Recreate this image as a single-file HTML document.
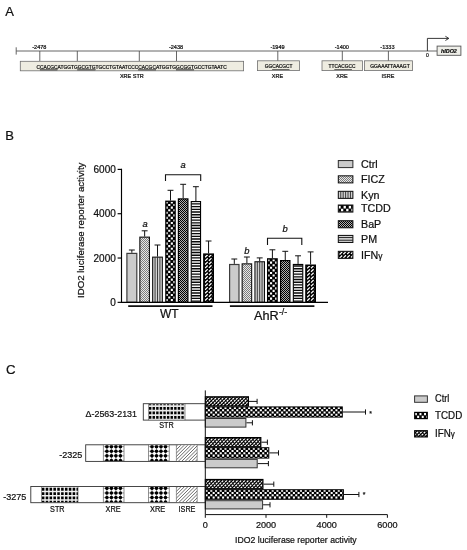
<!DOCTYPE html>
<html><head><meta charset="utf-8"><title>IDO2 figure</title>
<style>html,body{margin:0;padding:0;background:#fff;}svg{display:block;}text{font-family:"Liberation Sans", sans-serif;fill:#111;stroke:#111;stroke-width:0.22px;}</style>
</head><body>
<svg width="467" height="550" viewBox="0 0 467 550">
<defs>
<pattern id="pFICZ" width="2" height="2" patternUnits="userSpaceOnUse"><rect width="2" height="2" fill="#e8e8e8"/><rect width="1" height="1" fill="#7c7c7c"/><rect x="1" y="1" width="1" height="1" fill="#7c7c7c"/></pattern>
<pattern id="pBaP" width="2" height="2" patternUnits="userSpaceOnUse"><rect width="2" height="2" fill="#b0b0b0"/><rect width="1" height="1" fill="#000"/><rect x="1" y="1" width="1" height="1" fill="#000"/></pattern>
</defs>
<text x="5.2" y="16.3" font-size="13">A</text>
<g stroke="#555" stroke-width="0.9" fill="none">
<path d="M16.2,51 H437"/>
<path d="M16.2,47.3 V54.6"/>
<path d="M39.8,51 V61"/>
<path d="M77.3,51 V61"/>
<path d="M139.3,51 V61"/>
<path d="M176.5,51 V61"/>
<path d="M277.8,51 V61"/>
<path d="M342.3,51 V61"/>
<path d="M388.4,51 V61"/>
</g>
<path d="M427.4,51 V38.4 H448.6 M445.4,36.3 L448.8,38.4 L445.4,40.5" stroke="#222" stroke-width="0.9" fill="none"/>
<rect x="20.3" y="61.3" width="223.3" height="9.5" fill="#eeece1" stroke="#6f6f6f" stroke-width="0.8"/>
<rect x="257.5" y="60.8" width="41.9" height="9.8" fill="#eeece1" stroke="#6f6f6f" stroke-width="0.8"/>
<rect x="322" y="60.8" width="40.4" height="9.8" fill="#eeece1" stroke="#6f6f6f" stroke-width="0.8"/>
<rect x="364.5" y="60.8" width="48.0" height="9.8" fill="#eeece1" stroke="#6f6f6f" stroke-width="0.8"/>
<rect x="437.1" y="46.1" width="23.8" height="9.2" fill="#efefe9" stroke="#555" stroke-width="0.9"/>
<text x="36.5" y="68.6" font-size="4.9" textLength="190.2" lengthAdjust="spacingAndGlyphs" fill="#3a3a3a" stroke="none">C<tspan style="text-decoration:underline;text-underline-offset:0.2px;text-decoration-thickness:0.45px">CACGC</tspan>ATGGTG<tspan style="text-decoration:underline;text-underline-offset:0.2px;text-decoration-thickness:0.45px">GCGTG</tspan>TGCCTGTAATCCC<tspan style="text-decoration:underline;text-underline-offset:0.2px;text-decoration-thickness:0.45px">CACGC</tspan>ATGGTG<tspan style="text-decoration:underline;text-underline-offset:0.2px;text-decoration-thickness:0.45px">GCGGT</tspan>GCCTGTAATC</text>
<text x="264.7" y="68.2" font-size="4.9" textLength="27.8" lengthAdjust="spacingAndGlyphs" fill="#3a3a3a" stroke="none">GG<tspan style="text-decoration:underline;text-underline-offset:0.2px;text-decoration-thickness:0.45px">CACGC</tspan>T</text>
<text x="328.6" y="68.2" font-size="4.9" textLength="26.8" lengthAdjust="spacingAndGlyphs" fill="#3a3a3a" stroke="none">TT<tspan style="text-decoration:underline;text-underline-offset:0.2px;text-decoration-thickness:0.45px">CACGC</tspan>C</text>
<text x="370.2" y="68.2" font-size="4.9" textLength="39.5" lengthAdjust="spacingAndGlyphs" fill="#3a3a3a" stroke="none">GGAAATTAAAGT</text>
<text x="39.3" y="48.8" font-size="5.55" text-anchor="middle" stroke-width="0.1" >-2478</text>
<text x="176" y="48.8" font-size="5.55" text-anchor="middle" stroke-width="0.1" >-2438</text>
<text x="277.5" y="48.8" font-size="5.55" text-anchor="middle" stroke-width="0.1" >-1949</text>
<text x="341.8" y="48.8" font-size="5.55" text-anchor="middle" stroke-width="0.1" >-1400</text>
<text x="387.4" y="48.8" font-size="5.55" text-anchor="middle" stroke-width="0.1" >-1333</text>
<text x="427.4" y="56.8" font-size="5.0" text-anchor="middle" stroke-width="0.1" >0</text>
<text x="448.9" y="52.8" font-size="5.4" text-anchor="middle" stroke-width="0.1" font-style="italic" font-weight="bold" fill="#333">hIDO2</text>
<text x="131.8" y="77.8" font-size="5.5" text-anchor="middle" stroke-width="0.1" >XRE STR</text>
<text x="277.5" y="77.8" font-size="5.5" text-anchor="middle" stroke-width="0.1" >XRE</text>
<text x="342" y="77.8" font-size="5.5" text-anchor="middle" stroke-width="0.1" >XRE</text>
<text x="388" y="77.8" font-size="5.5" text-anchor="middle" stroke-width="0.1" >ISRE</text>
<text x="5.2" y="140.1" font-size="13">B</text>
<text x="115.8" y="305.85" font-size="10.0" text-anchor="end" stroke-width="0.3">0</text>
<text x="115.8" y="261.53" font-size="10.0" text-anchor="end" stroke-width="0.3">2000</text>
<text x="115.8" y="217.22" font-size="10.0" text-anchor="end" stroke-width="0.3">4000</text>
<text x="115.8" y="172.90" font-size="10.0" text-anchor="end" stroke-width="0.3">6000</text>
<text transform="translate(84.4,230.3) rotate(-90)" font-size="9.6" text-anchor="middle" textLength="135.5" lengthAdjust="spacingAndGlyphs">IDO2 luciferase reporter activity</text>
<path d="M131.85,252.80 V250.00 M128.90,250.00 H134.80" stroke="#111" stroke-width="1" fill="none"/>
<rect x="126.9" y="253.4" width="9.9" height="48.85" fill="#cbcbcb"/>
<rect x="126.9" y="253.4" width="9.9" height="48.85" fill="none" stroke="#3c3c3c" stroke-width="1.2"/>
<path d="M144.65,236.60 V230.80 M141.70,230.80 H147.60" stroke="#111" stroke-width="1" fill="none"/>
<rect x="139.85" y="237.15" width="9.6" height="65.15" fill="url(#pFICZ)"/>
<rect x="139.85" y="237.15" width="9.6" height="65.15" fill="none" stroke="#111" stroke-width="1.1"/>
<path d="M157.50,256.60 V245.00 M154.55,245.00 H160.45" stroke="#111" stroke-width="1" fill="none"/>
<clipPath id="k1"><rect x="152.65" y="257.15" width="9.7" height="45.15"/></clipPath>
<g clip-path="url(#k1)">
<rect x="152.65" y="257.15" width="9.7" height="45.15" fill="#d2d2d2"/>
<path d="M155.07,257.15V302.3M157.5,257.15V302.3M159.93,257.15V302.3" stroke="#2a2a2a" stroke-width="0.9" fill="none"/>
</g>
<rect x="152.65" y="257.15" width="9.7" height="45.15" fill="none" stroke="#111" stroke-width="1.1"/>
<path d="M170.50,200.60 V190.30 M167.55,190.30 H173.45" stroke="#111" stroke-width="1" fill="none"/>
<clipPath id="k2"><rect x="165.85" y="201.25" width="9.3" height="100.95"/></clipPath>
<g clip-path="url(#k2)">
<rect x="165.85" y="201.25" width="9.3" height="100.95" fill="#000"/>
<path d="M165.64,201.44h2.1v2.1h-2.1zM170.78,201.44h2.1v2.1h-2.1zM168.21,204h2.1v2.1h-2.1zM173.34,204h2.1v2.1h-2.1zM165.64,206.57h2.1v2.1h-2.1zM170.78,206.57h2.1v2.1h-2.1zM168.21,209.14h2.1v2.1h-2.1zM173.34,209.14h2.1v2.1h-2.1zM165.64,211.71h2.1v2.1h-2.1zM170.78,211.71h2.1v2.1h-2.1zM168.21,214.28h2.1v2.1h-2.1zM173.34,214.28h2.1v2.1h-2.1zM165.64,216.85h2.1v2.1h-2.1zM170.78,216.85h2.1v2.1h-2.1zM168.21,219.42h2.1v2.1h-2.1zM173.34,219.42h2.1v2.1h-2.1zM165.64,221.99h2.1v2.1h-2.1zM170.78,221.99h2.1v2.1h-2.1zM168.21,224.56h2.1v2.1h-2.1zM173.34,224.56h2.1v2.1h-2.1zM165.64,227.13h2.1v2.1h-2.1zM170.78,227.13h2.1v2.1h-2.1zM168.21,229.7h2.1v2.1h-2.1zM173.34,229.7h2.1v2.1h-2.1zM165.64,232.27h2.1v2.1h-2.1zM170.78,232.27h2.1v2.1h-2.1zM168.21,234.84h2.1v2.1h-2.1zM173.34,234.84h2.1v2.1h-2.1zM165.64,237.41h2.1v2.1h-2.1zM170.78,237.41h2.1v2.1h-2.1zM168.21,239.98h2.1v2.1h-2.1zM173.34,239.98h2.1v2.1h-2.1zM165.64,242.55h2.1v2.1h-2.1zM170.78,242.55h2.1v2.1h-2.1zM168.21,245.12h2.1v2.1h-2.1zM173.34,245.12h2.1v2.1h-2.1zM165.64,247.69h2.1v2.1h-2.1zM170.78,247.69h2.1v2.1h-2.1zM168.21,250.26h2.1v2.1h-2.1zM173.34,250.26h2.1v2.1h-2.1zM165.64,252.83h2.1v2.1h-2.1zM170.78,252.83h2.1v2.1h-2.1zM168.21,255.4h2.1v2.1h-2.1zM173.34,255.4h2.1v2.1h-2.1zM165.64,257.97h2.1v2.1h-2.1zM170.78,257.97h2.1v2.1h-2.1zM168.21,260.54h2.1v2.1h-2.1zM173.34,260.54h2.1v2.1h-2.1zM165.64,263.11h2.1v2.1h-2.1zM170.78,263.11h2.1v2.1h-2.1zM168.21,265.68h2.1v2.1h-2.1zM173.34,265.68h2.1v2.1h-2.1zM165.64,268.25h2.1v2.1h-2.1zM170.78,268.25h2.1v2.1h-2.1zM168.21,270.82h2.1v2.1h-2.1zM173.34,270.82h2.1v2.1h-2.1zM165.64,273.39h2.1v2.1h-2.1zM170.78,273.39h2.1v2.1h-2.1zM168.21,275.96h2.1v2.1h-2.1zM173.34,275.96h2.1v2.1h-2.1zM165.64,278.53h2.1v2.1h-2.1zM170.78,278.53h2.1v2.1h-2.1zM168.21,281.1h2.1v2.1h-2.1zM173.34,281.1h2.1v2.1h-2.1zM165.64,283.67h2.1v2.1h-2.1zM170.78,283.67h2.1v2.1h-2.1zM168.21,286.24h2.1v2.1h-2.1zM173.34,286.24h2.1v2.1h-2.1zM165.64,288.81h2.1v2.1h-2.1zM170.78,288.81h2.1v2.1h-2.1zM168.21,291.38h2.1v2.1h-2.1zM173.34,291.38h2.1v2.1h-2.1zM165.64,293.95h2.1v2.1h-2.1zM170.78,293.95h2.1v2.1h-2.1zM168.21,296.52h2.1v2.1h-2.1zM173.34,296.52h2.1v2.1h-2.1zM165.64,299.09h2.1v2.1h-2.1zM170.78,299.09h2.1v2.1h-2.1zM168.21,301.66h2.1v2.1h-2.1zM173.34,301.66h2.1v2.1h-2.1z" fill="#fff"/>
</g>
<rect x="165.85" y="201.25" width="9.3" height="100.95" fill="none" stroke="#000" stroke-width="1.3"/>
<path d="M183.15,198.30 V184.30 M180.20,184.30 H186.10" stroke="#111" stroke-width="1" fill="none"/>
<rect x="178.4" y="198.9" width="9.5" height="103.35" fill="url(#pBaP)"/>
<rect x="178.4" y="198.9" width="9.5" height="103.35" fill="none" stroke="#000" stroke-width="1.2"/>
<path d="M195.90,201.00 V186.70 M192.95,186.70 H198.85" stroke="#111" stroke-width="1" fill="none"/>
<clipPath id="k3"><rect x="191.25" y="201.55" width="9.3" height="100.75"/></clipPath>
<g clip-path="url(#k3)">
<rect x="191.25" y="201.55" width="9.3" height="100.75" fill="#f6f6f6"/>
<path d="M191.25,301.1H200.55M191.25,298.4H200.55M191.25,295.7H200.55M191.25,293H200.55M191.25,290.3H200.55M191.25,287.6H200.55M191.25,284.9H200.55M191.25,282.2H200.55M191.25,279.5H200.55M191.25,276.8H200.55M191.25,274.1H200.55M191.25,271.4H200.55M191.25,268.7H200.55M191.25,266H200.55M191.25,263.3H200.55M191.25,260.6H200.55M191.25,257.9H200.55M191.25,255.2H200.55M191.25,252.5H200.55M191.25,249.8H200.55M191.25,247.1H200.55M191.25,244.4H200.55M191.25,241.7H200.55M191.25,239H200.55M191.25,236.3H200.55M191.25,233.6H200.55M191.25,230.9H200.55M191.25,228.2H200.55M191.25,225.5H200.55M191.25,222.8H200.55M191.25,220.1H200.55M191.25,217.4H200.55M191.25,214.7H200.55M191.25,212H200.55M191.25,209.3H200.55M191.25,206.6H200.55M191.25,203.9H200.55M191.25,201.2H200.55" stroke="#0a0a0a" stroke-width="1.35" fill="none"/>
</g>
<rect x="191.25" y="201.55" width="9.3" height="100.75" fill="none" stroke="#000" stroke-width="1.1"/>
<path d="M208.55,253.40 V241.00 M205.60,241.00 H211.50" stroke="#111" stroke-width="1" fill="none"/>
<clipPath id="k4"><rect x="203.85" y="254.15" width="9.4" height="47.95"/></clipPath>
<g clip-path="url(#k4)">
<rect x="203.85" y="254.15" width="9.4" height="47.95" fill="#000"/>
<path d="M201.3,253.9L214.25,240.95M201.3,257.5L214.25,244.55M201.3,261.1L214.25,248.15M201.3,264.7L214.25,251.75M201.3,268.3L214.25,255.35M201.3,271.9L214.25,258.95M201.3,275.5L214.25,262.55M201.3,279.1L214.25,266.15M201.3,282.7L214.25,269.75M201.3,286.3L214.25,273.35M201.3,289.9L214.25,276.95M201.3,293.5L214.25,280.55M201.3,297.1L214.25,284.15M201.3,300.7L214.25,287.75M201.3,304.3L214.25,291.35M201.3,307.9L214.25,294.95M201.3,311.5L214.25,298.55M201.3,315.1L214.25,302.15" stroke="#fff" stroke-width="1.25" stroke-dasharray="3.7 1.67" fill="none"/>
</g>
<rect x="203.85" y="254.15" width="9.4" height="47.95" fill="none" stroke="#000" stroke-width="1.5"/>
<path d="M234.30,263.90 V259.00 M231.35,259.00 H237.25" stroke="#111" stroke-width="1" fill="none"/>
<rect x="229.6" y="264.5" width="9.4" height="37.75" fill="#cbcbcb"/>
<rect x="229.6" y="264.5" width="9.4" height="37.75" fill="none" stroke="#3c3c3c" stroke-width="1.2"/>
<path d="M246.90,263.30 V257.00 M243.95,257.00 H249.85" stroke="#111" stroke-width="1" fill="none"/>
<rect x="242.15" y="263.85" width="9.5" height="38.45" fill="url(#pFICZ)"/>
<rect x="242.15" y="263.85" width="9.5" height="38.45" fill="none" stroke="#111" stroke-width="1.1"/>
<path d="M259.70,261.20 V257.90 M256.75,257.90 H262.65" stroke="#111" stroke-width="1" fill="none"/>
<clipPath id="k5"><rect x="254.95" y="261.75" width="9.5" height="40.55"/></clipPath>
<g clip-path="url(#k5)">
<rect x="254.95" y="261.75" width="9.5" height="40.55" fill="#d2d2d2"/>
<path d="M257.32,261.75V302.3M259.7,261.75V302.3M262.07,261.75V302.3" stroke="#2a2a2a" stroke-width="0.9" fill="none"/>
</g>
<rect x="254.95" y="261.75" width="9.5" height="40.55" fill="none" stroke="#111" stroke-width="1.1"/>
<path d="M272.40,258.20 V249.80 M269.45,249.80 H275.35" stroke="#111" stroke-width="1" fill="none"/>
<clipPath id="k6"><rect x="267.65" y="258.85" width="9.5" height="43.35"/></clipPath>
<g clip-path="url(#k6)">
<rect x="267.65" y="258.85" width="9.5" height="43.35" fill="#000"/>
<path d="M267.44,259.03h2.1v2.1h-2.1zM272.57,259.03h2.1v2.1h-2.1zM270,261.6h2.1v2.1h-2.1zM275.14,261.6h2.1v2.1h-2.1zM267.44,264.17h2.1v2.1h-2.1zM272.57,264.17h2.1v2.1h-2.1zM270,266.74h2.1v2.1h-2.1zM275.14,266.74h2.1v2.1h-2.1zM267.44,269.31h2.1v2.1h-2.1zM272.57,269.31h2.1v2.1h-2.1zM270,271.88h2.1v2.1h-2.1zM275.14,271.88h2.1v2.1h-2.1zM267.44,274.45h2.1v2.1h-2.1zM272.57,274.45h2.1v2.1h-2.1zM270,277.02h2.1v2.1h-2.1zM275.14,277.02h2.1v2.1h-2.1zM267.44,279.59h2.1v2.1h-2.1zM272.57,279.59h2.1v2.1h-2.1zM270,282.16h2.1v2.1h-2.1zM275.14,282.16h2.1v2.1h-2.1zM267.44,284.73h2.1v2.1h-2.1zM272.57,284.73h2.1v2.1h-2.1zM270,287.3h2.1v2.1h-2.1zM275.14,287.3h2.1v2.1h-2.1zM267.44,289.87h2.1v2.1h-2.1zM272.57,289.87h2.1v2.1h-2.1zM270,292.44h2.1v2.1h-2.1zM275.14,292.44h2.1v2.1h-2.1zM267.44,295.01h2.1v2.1h-2.1zM272.57,295.01h2.1v2.1h-2.1zM270,297.58h2.1v2.1h-2.1zM275.14,297.58h2.1v2.1h-2.1zM267.44,300.15h2.1v2.1h-2.1zM272.57,300.15h2.1v2.1h-2.1z" fill="#fff"/>
</g>
<rect x="267.65" y="258.85" width="9.5" height="43.35" fill="none" stroke="#000" stroke-width="1.3"/>
<path d="M285.25,260.00 V251.30 M282.30,251.30 H288.20" stroke="#111" stroke-width="1" fill="none"/>
<rect x="280.6" y="260.6" width="9.3" height="41.65" fill="url(#pBaP)"/>
<rect x="280.6" y="260.6" width="9.3" height="41.65" fill="none" stroke="#000" stroke-width="1.2"/>
<path d="M298.05,263.90 V255.80 M295.10,255.80 H301.00" stroke="#111" stroke-width="1" fill="none"/>
<clipPath id="k7"><rect x="293.35" y="264.45" width="9.4" height="37.85"/></clipPath>
<g clip-path="url(#k7)">
<rect x="293.35" y="264.45" width="9.4" height="37.85" fill="#f6f6f6"/>
<path d="M293.35,301.1H302.75M293.35,298.4H302.75M293.35,295.7H302.75M293.35,293H302.75M293.35,290.3H302.75M293.35,287.6H302.75M293.35,284.9H302.75M293.35,282.2H302.75M293.35,279.5H302.75M293.35,276.8H302.75M293.35,274.1H302.75M293.35,271.4H302.75M293.35,268.7H302.75M293.35,266H302.75" stroke="#0a0a0a" stroke-width="1.35" fill="none"/>
</g>
<rect x="293.35" y="264.45" width="9.4" height="37.85" fill="none" stroke="#000" stroke-width="1.1"/>
<path d="M310.60,264.50 V251.90 M307.65,251.90 H313.55" stroke="#111" stroke-width="1" fill="none"/>
<clipPath id="k8"><rect x="305.95" y="265.25" width="9.3" height="36.85"/></clipPath>
<g clip-path="url(#k8)">
<rect x="305.95" y="265.25" width="9.3" height="36.85" fill="#000"/>
<path d="M303.4,265L316.25,252.15M303.4,268.6L316.25,255.75M303.4,272.2L316.25,259.35M303.4,275.8L316.25,262.95M303.4,279.4L316.25,266.55M303.4,283L316.25,270.15M303.4,286.6L316.25,273.75M303.4,290.2L316.25,277.35M303.4,293.8L316.25,280.95M303.4,297.4L316.25,284.55M303.4,301L316.25,288.15M303.4,304.6L316.25,291.75M303.4,308.2L316.25,295.35M303.4,311.8L316.25,298.95M303.4,315.4L316.25,302.55" stroke="#fff" stroke-width="1.25" stroke-dasharray="3.7 1.67" fill="none"/>
</g>
<rect x="305.95" y="265.25" width="9.3" height="36.85" fill="none" stroke="#000" stroke-width="1.5"/>
<g stroke="#000" stroke-width="1.15" fill="none">
<path d="M121.5,168.85 V302.35 H328"/>
<path d="M117.6,302.35 H121.5"/>
<path d="M117.6,258.03 H121.5"/>
<path d="M117.6,213.72 H121.5"/>
<path d="M117.6,169.40 H121.5"/>
</g>
<path d="M128.2,306.1 H212.5 M229.9,306.1 H314.4" stroke="#111" stroke-width="1.6"/>
<text x="169.3" y="317.5" font-size="12" text-anchor="middle">WT</text>
<text x="254.0" y="319.6" font-size="12.7">AhR<tspan font-size="8.8" dy="-4.3" dx="0.2">-/-</tspan></text>
<path d="M165.5,181 V174.8 H200.7 V181" stroke="#111" stroke-width="1.1" fill="none"/>
<path d="M267.5,245 V238.3 H301.8 V245" stroke="#111" stroke-width="1.1" fill="none"/>
<text x="183.0" y="167.8" font-size="9.4" text-anchor="middle" stroke-width="0.3" font-style="italic">a</text>
<text x="145.1" y="226.7" font-size="9.4" text-anchor="middle" stroke-width="0.3" font-style="italic">a</text>
<text x="246.8" y="253.6" font-size="9.4" text-anchor="middle" stroke-width="0.3" font-style="italic">b</text>
<text x="285.1" y="232.0" font-size="9.4" text-anchor="middle" stroke-width="0.3" font-style="italic">b</text>
<rect x="338.32" y="160.53" width="14.55" height="7.05" fill="#cbcbcb"/>
<rect x="338.32" y="160.53" width="14.55" height="7.05" fill="none" stroke="#333" stroke-width="1.05"/>
<text x="361" y="167.80" font-size="10.7">Ctrl</text>
<rect x="338.32" y="175.83" width="14.55" height="7.05" fill="url(#pFICZ)"/>
<rect x="338.32" y="175.83" width="14.55" height="7.05" fill="none" stroke="#111" stroke-width="1.05"/>
<text x="361" y="183.10" font-size="10.7">FICZ</text>
<clipPath id="k9"><rect x="338.32" y="191.33" width="14.55" height="7.05"/></clipPath>
<g clip-path="url(#k9)">
<rect x="338.32" y="191.33" width="14.55" height="7.05" fill="#d2d2d2"/>
<path d="M340.75,191.33V198.38M343.18,191.33V198.38M345.6,191.33V198.38M348.02,191.33V198.38M350.45,191.33V198.38" stroke="#2a2a2a" stroke-width="0.9" fill="none"/>
</g>
<rect x="338.32" y="191.33" width="14.55" height="7.05" fill="none" stroke="#111" stroke-width="1.05"/>
<text x="361" y="198.60" font-size="10.7">Kyn</text>
<clipPath id="k10"><rect x="338.32" y="205.03" width="14.55" height="7.05"/></clipPath>
<g clip-path="url(#k10)">
<rect x="338.32" y="205.03" width="14.55" height="7.05" fill="#000"/>
<path d="M338.37,205.73h2.3v2.7h-2.3zM343.57,205.73h2.3v2.7h-2.3zM348.78,205.73h2.3v2.7h-2.3zM340.97,208.73h2.3v2.7h-2.3zM346.18,208.73h2.3v2.7h-2.3zM351.38,208.73h2.3v2.7h-2.3zM338.37,211.73h2.3v2.7h-2.3zM343.57,211.73h2.3v2.7h-2.3zM348.78,211.73h2.3v2.7h-2.3z" fill="#fff"/>
</g>
<rect x="338.32" y="205.03" width="14.55" height="7.05" fill="none" stroke="#111" stroke-width="1.05"/>
<text x="361" y="212.30" font-size="10.7">TCDD</text>
<rect x="338.32" y="220.72" width="14.55" height="7.05" fill="url(#pBaP)"/>
<rect x="338.32" y="220.72" width="14.55" height="7.05" fill="none" stroke="#111" stroke-width="1.05"/>
<text x="361" y="228.00" font-size="10.7">BaP</text>
<clipPath id="k11"><rect x="338.32" y="235.43" width="14.55" height="7.05"/></clipPath>
<g clip-path="url(#k11)">
<rect x="338.32" y="235.43" width="14.55" height="7.05" fill="#d4d4d4"/>
<path d="M338.32,237.54H352.88M338.32,240.22H352.88" stroke="#2a2a2a" stroke-width="1" fill="none"/>
</g>
<rect x="338.32" y="235.43" width="14.55" height="7.05" fill="none" stroke="#111" stroke-width="1.05"/>
<text x="361" y="242.70" font-size="10.7">PM</text>
<clipPath id="k12"><rect x="338.32" y="251.33" width="14.55" height="7.05"/></clipPath>
<g clip-path="url(#k12)">
<rect x="338.32" y="251.33" width="14.55" height="7.05" fill="#000"/>
<path d="M335.77,251.07L353.88,232.97M335.77,254.67L353.88,236.57M335.77,258.27L353.88,240.17M335.77,261.88L353.88,243.77M335.77,265.48L353.88,247.38M335.77,269.08L353.88,250.98M335.77,272.68L353.88,254.58M335.77,276.28L353.88,258.18" stroke="#fff" stroke-width="1.25" stroke-dasharray="3.7 1.67" fill="none"/>
</g>
<rect x="338.32" y="251.33" width="14.55" height="7.05" fill="none" stroke="#111" stroke-width="1.05"/>
<text x="361" y="258.60" font-size="10.7">IFN<tspan font-size="8.5">γ</tspan></text>
<text x="6.0" y="373.7" font-size="13.2">C</text>
<rect x="143.30" y="403.70" width="62.00" height="16.40" fill="#fff" stroke="#333" stroke-width="0.9"/>
<clipPath id="k13"><rect x="148.6" y="404.15" width="36.4" height="15.5"/></clipPath>
<g clip-path="url(#k13)">
<rect x="148.6" y="404.15" width="36.4" height="15.5" fill="#e9e9e9"/>
<path d="M148.95,402.45h2.4v2.7h-2.4zM152.55,402.45h2.4v2.7h-2.4zM156.15,402.45h2.4v2.7h-2.4zM159.75,402.45h2.4v2.7h-2.4zM163.35,402.45h2.4v2.7h-2.4zM166.95,402.45h2.4v2.7h-2.4zM170.55,402.45h2.4v2.7h-2.4zM174.15,402.45h2.4v2.7h-2.4zM177.75,402.45h2.4v2.7h-2.4zM181.35,402.45h2.4v2.7h-2.4zM184.95,402.45h2.4v2.7h-2.4zM148.95,406.95h2.4v2.7h-2.4zM152.55,406.95h2.4v2.7h-2.4zM156.15,406.95h2.4v2.7h-2.4zM159.75,406.95h2.4v2.7h-2.4zM163.35,406.95h2.4v2.7h-2.4zM166.95,406.95h2.4v2.7h-2.4zM170.55,406.95h2.4v2.7h-2.4zM174.15,406.95h2.4v2.7h-2.4zM177.75,406.95h2.4v2.7h-2.4zM181.35,406.95h2.4v2.7h-2.4zM184.95,406.95h2.4v2.7h-2.4zM148.95,411.45h2.4v2.7h-2.4zM152.55,411.45h2.4v2.7h-2.4zM156.15,411.45h2.4v2.7h-2.4zM159.75,411.45h2.4v2.7h-2.4zM163.35,411.45h2.4v2.7h-2.4zM166.95,411.45h2.4v2.7h-2.4zM170.55,411.45h2.4v2.7h-2.4zM174.15,411.45h2.4v2.7h-2.4zM177.75,411.45h2.4v2.7h-2.4zM181.35,411.45h2.4v2.7h-2.4zM184.95,411.45h2.4v2.7h-2.4zM148.95,415.95h2.4v2.7h-2.4zM152.55,415.95h2.4v2.7h-2.4zM156.15,415.95h2.4v2.7h-2.4zM159.75,415.95h2.4v2.7h-2.4zM163.35,415.95h2.4v2.7h-2.4zM166.95,415.95h2.4v2.7h-2.4zM170.55,415.95h2.4v2.7h-2.4zM174.15,415.95h2.4v2.7h-2.4zM177.75,415.95h2.4v2.7h-2.4zM181.35,415.95h2.4v2.7h-2.4zM184.95,415.95h2.4v2.7h-2.4z" fill="#000"/>
</g>
<path d="M148.60,403.70V420.10M185.00,403.70V420.10" stroke="#444" stroke-width="0.6" fill="none"/>
<rect x="85.70" y="444.80" width="119.60" height="16.60" fill="#fff" stroke="#333" stroke-width="0.9"/>
<clipPath id="k14"><rect x="103.4" y="445.25" width="20.6" height="15.7"/></clipPath>
<g clip-path="url(#k14)">
<rect x="103.4" y="445.25" width="20.6" height="15.7" fill="#fff"/>
<path d="M103.4,446.65H124M106.9,445.25V460.95M111.4,445.25V460.95M115.9,445.25V460.95M120.4,445.25V460.95M103.4,451.25H124M103.4,455.85H124M103.4,460.45H124" stroke="#777" stroke-width="0.7" fill="none"/>
<g fill="#000"><circle cx="106.9" cy="446.65" r="1.78"/><circle cx="111.4" cy="446.65" r="1.78"/><circle cx="115.9" cy="446.65" r="1.78"/><circle cx="120.4" cy="446.65" r="1.78"/><circle cx="106.9" cy="451.25" r="1.78"/><circle cx="111.4" cy="451.25" r="1.78"/><circle cx="115.9" cy="451.25" r="1.78"/><circle cx="120.4" cy="451.25" r="1.78"/><circle cx="106.9" cy="455.85" r="1.78"/><circle cx="111.4" cy="455.85" r="1.78"/><circle cx="115.9" cy="455.85" r="1.78"/><circle cx="120.4" cy="455.85" r="1.78"/><circle cx="106.9" cy="460.45" r="1.78"/><circle cx="111.4" cy="460.45" r="1.78"/><circle cx="115.9" cy="460.45" r="1.78"/><circle cx="120.4" cy="460.45" r="1.78"/></g>
</g>
<path d="M103.40,444.80V461.40M124.00,444.80V461.40" stroke="#444" stroke-width="0.6" fill="none"/>
<clipPath id="k15"><rect x="148.5" y="445.25" width="20.8" height="15.7"/></clipPath>
<g clip-path="url(#k15)">
<rect x="148.5" y="445.25" width="20.8" height="15.7" fill="#fff"/>
<path d="M148.5,446.65H169.3M152,445.25V460.95M156.5,445.25V460.95M161,445.25V460.95M165.5,445.25V460.95M148.5,451.25H169.3M148.5,455.85H169.3M148.5,460.45H169.3" stroke="#777" stroke-width="0.7" fill="none"/>
<g fill="#000"><circle cx="152" cy="446.65" r="1.78"/><circle cx="156.5" cy="446.65" r="1.78"/><circle cx="161" cy="446.65" r="1.78"/><circle cx="165.5" cy="446.65" r="1.78"/><circle cx="152" cy="451.25" r="1.78"/><circle cx="156.5" cy="451.25" r="1.78"/><circle cx="161" cy="451.25" r="1.78"/><circle cx="165.5" cy="451.25" r="1.78"/><circle cx="152" cy="455.85" r="1.78"/><circle cx="156.5" cy="455.85" r="1.78"/><circle cx="161" cy="455.85" r="1.78"/><circle cx="165.5" cy="455.85" r="1.78"/><circle cx="152" cy="460.45" r="1.78"/><circle cx="156.5" cy="460.45" r="1.78"/><circle cx="161" cy="460.45" r="1.78"/><circle cx="165.5" cy="460.45" r="1.78"/></g>
</g>
<path d="M148.50,444.80V461.40M169.30,444.80V461.40" stroke="#444" stroke-width="0.6" fill="none"/>
<clipPath id="k16"><rect x="176.4" y="445.25" width="20.8" height="15.7"/></clipPath>
<g clip-path="url(#k16)">
<rect x="176.4" y="445.25" width="20.8" height="15.7" fill="#fff"/>
<path d="M175.4,443.85L198.2,421.05M175.4,447.25L198.2,424.45M175.4,450.65L198.2,427.85M175.4,454.05L198.2,431.25M175.4,457.45L198.2,434.65M175.4,460.85L198.2,438.05M175.4,464.25L198.2,441.45M175.4,467.65L198.2,444.85M175.4,471.05L198.2,448.25M175.4,474.45L198.2,451.65M175.4,477.85L198.2,455.05M175.4,481.25L198.2,458.45M175.4,484.65L198.2,461.85" stroke="#6a6a6a" stroke-width="1.0" fill="none"/>
</g>
<path d="M176.40,444.80V461.40M197.20,444.80V461.40" stroke="#5a5a5a" stroke-width="0.6" fill="none"/>
<rect x="30.80" y="486.50" width="174.50" height="16.20" fill="#fff" stroke="#333" stroke-width="0.9"/>
<clipPath id="k17"><rect x="41.5" y="486.95" width="36.5" height="15.3"/></clipPath>
<g clip-path="url(#k17)">
<rect x="41.5" y="486.95" width="36.5" height="15.3" fill="#f2f2f2"/>
<path d="M41.85,487.85h2.55v2.8h-2.55zM45.7,487.85h2.55v2.8h-2.55zM49.55,487.85h2.55v2.8h-2.55zM53.4,487.85h2.55v2.8h-2.55zM57.25,487.85h2.55v2.8h-2.55zM61.1,487.85h2.55v2.8h-2.55zM64.95,487.85h2.55v2.8h-2.55zM68.8,487.85h2.55v2.8h-2.55zM72.65,487.85h2.55v2.8h-2.55zM76.5,487.85h2.55v2.8h-2.55zM41.85,492.15h2.55v2.8h-2.55zM45.7,492.15h2.55v2.8h-2.55zM49.55,492.15h2.55v2.8h-2.55zM53.4,492.15h2.55v2.8h-2.55zM57.25,492.15h2.55v2.8h-2.55zM61.1,492.15h2.55v2.8h-2.55zM64.95,492.15h2.55v2.8h-2.55zM68.8,492.15h2.55v2.8h-2.55zM72.65,492.15h2.55v2.8h-2.55zM76.5,492.15h2.55v2.8h-2.55zM41.85,496.45h2.55v2.8h-2.55zM45.7,496.45h2.55v2.8h-2.55zM49.55,496.45h2.55v2.8h-2.55zM53.4,496.45h2.55v2.8h-2.55zM57.25,496.45h2.55v2.8h-2.55zM61.1,496.45h2.55v2.8h-2.55zM64.95,496.45h2.55v2.8h-2.55zM68.8,496.45h2.55v2.8h-2.55zM72.65,496.45h2.55v2.8h-2.55zM76.5,496.45h2.55v2.8h-2.55zM41.85,500.75h2.55v2.8h-2.55zM45.7,500.75h2.55v2.8h-2.55zM49.55,500.75h2.55v2.8h-2.55zM53.4,500.75h2.55v2.8h-2.55zM57.25,500.75h2.55v2.8h-2.55zM61.1,500.75h2.55v2.8h-2.55zM64.95,500.75h2.55v2.8h-2.55zM68.8,500.75h2.55v2.8h-2.55zM72.65,500.75h2.55v2.8h-2.55zM76.5,500.75h2.55v2.8h-2.55z" fill="#000"/>
</g>
<path d="M41.50,486.50V502.70M78.00,486.50V502.70" stroke="#444" stroke-width="0.6" fill="none"/>
<clipPath id="k18"><rect x="103.4" y="486.95" width="20.6" height="15.3"/></clipPath>
<g clip-path="url(#k18)">
<rect x="103.4" y="486.95" width="20.6" height="15.3" fill="#fff"/>
<path d="M103.4,488.35H124M106.9,486.95V502.25M111.4,486.95V502.25M115.9,486.95V502.25M120.4,486.95V502.25M103.4,492.95H124M103.4,497.55H124M103.4,502.15H124" stroke="#777" stroke-width="0.7" fill="none"/>
<g fill="#000"><circle cx="106.9" cy="488.35" r="1.78"/><circle cx="111.4" cy="488.35" r="1.78"/><circle cx="115.9" cy="488.35" r="1.78"/><circle cx="120.4" cy="488.35" r="1.78"/><circle cx="106.9" cy="492.95" r="1.78"/><circle cx="111.4" cy="492.95" r="1.78"/><circle cx="115.9" cy="492.95" r="1.78"/><circle cx="120.4" cy="492.95" r="1.78"/><circle cx="106.9" cy="497.55" r="1.78"/><circle cx="111.4" cy="497.55" r="1.78"/><circle cx="115.9" cy="497.55" r="1.78"/><circle cx="120.4" cy="497.55" r="1.78"/><circle cx="106.9" cy="502.15" r="1.78"/><circle cx="111.4" cy="502.15" r="1.78"/><circle cx="115.9" cy="502.15" r="1.78"/><circle cx="120.4" cy="502.15" r="1.78"/></g>
</g>
<path d="M103.40,486.50V502.70M124.00,486.50V502.70" stroke="#444" stroke-width="0.6" fill="none"/>
<clipPath id="k19"><rect x="148.5" y="486.95" width="20.8" height="15.3"/></clipPath>
<g clip-path="url(#k19)">
<rect x="148.5" y="486.95" width="20.8" height="15.3" fill="#fff"/>
<path d="M148.5,488.35H169.3M152,486.95V502.25M156.5,486.95V502.25M161,486.95V502.25M165.5,486.95V502.25M148.5,492.95H169.3M148.5,497.55H169.3M148.5,502.15H169.3" stroke="#777" stroke-width="0.7" fill="none"/>
<g fill="#000"><circle cx="152" cy="488.35" r="1.78"/><circle cx="156.5" cy="488.35" r="1.78"/><circle cx="161" cy="488.35" r="1.78"/><circle cx="165.5" cy="488.35" r="1.78"/><circle cx="152" cy="492.95" r="1.78"/><circle cx="156.5" cy="492.95" r="1.78"/><circle cx="161" cy="492.95" r="1.78"/><circle cx="165.5" cy="492.95" r="1.78"/><circle cx="152" cy="497.55" r="1.78"/><circle cx="156.5" cy="497.55" r="1.78"/><circle cx="161" cy="497.55" r="1.78"/><circle cx="165.5" cy="497.55" r="1.78"/><circle cx="152" cy="502.15" r="1.78"/><circle cx="156.5" cy="502.15" r="1.78"/><circle cx="161" cy="502.15" r="1.78"/><circle cx="165.5" cy="502.15" r="1.78"/></g>
</g>
<path d="M148.50,486.50V502.70M169.30,486.50V502.70" stroke="#444" stroke-width="0.6" fill="none"/>
<clipPath id="k20"><rect x="176.4" y="486.95" width="20.8" height="15.3"/></clipPath>
<g clip-path="url(#k20)">
<rect x="176.4" y="486.95" width="20.8" height="15.3" fill="#fff"/>
<path d="M175.4,485.55L198.2,462.75M175.4,488.95L198.2,466.15M175.4,492.35L198.2,469.55M175.4,495.75L198.2,472.95M175.4,499.15L198.2,476.35M175.4,502.55L198.2,479.75M175.4,505.95L198.2,483.15M175.4,509.35L198.2,486.55M175.4,512.75L198.2,489.95M175.4,516.15L198.2,493.35M175.4,519.55L198.2,496.75M175.4,522.95L198.2,500.15M175.4,526.35L198.2,503.55" stroke="#6a6a6a" stroke-width="1.0" fill="none"/>
</g>
<path d="M176.40,486.50V502.70M197.20,486.50V502.70" stroke="#5a5a5a" stroke-width="0.6" fill="none"/>
<text x="166.4" y="428.0" font-size="8.6" text-anchor="middle" stroke-width="0.08" fill="#1a1a1a" textLength="14.5" lengthAdjust="spacingAndGlyphs">STR</text>
<text x="57.3" y="511.6" font-size="8.6" text-anchor="middle" stroke-width="0.08" fill="#1a1a1a" textLength="14.5" lengthAdjust="spacingAndGlyphs">STR</text>
<text x="113.2" y="511.6" font-size="8.6" text-anchor="middle" stroke-width="0.08" fill="#1a1a1a" textLength="15.2" lengthAdjust="spacingAndGlyphs">XRE</text>
<text x="157.7" y="511.6" font-size="8.6" text-anchor="middle" stroke-width="0.08" fill="#1a1a1a" textLength="15.2" lengthAdjust="spacingAndGlyphs">XRE</text>
<text x="187.0" y="511.6" font-size="8.6" text-anchor="middle" stroke-width="0.08" fill="#1a1a1a" textLength="16.9" lengthAdjust="spacingAndGlyphs">ISRE</text>
<text x="85.6" y="416.6" font-size="9.8" text-anchor="start" stroke-width="0.08" fill="#1a1a1a" textLength="51.4" lengthAdjust="spacingAndGlyphs">Δ-2563-2131</text>
<text x="59.3" y="457.8" font-size="9.8" text-anchor="start" stroke-width="0.08" fill="#1a1a1a" textLength="23.1" lengthAdjust="spacingAndGlyphs">-2325</text>
<text x="3.3" y="499.6" font-size="9.8" text-anchor="start" stroke-width="0.08" fill="#1a1a1a" textLength="23.1" lengthAdjust="spacingAndGlyphs">-3275</text>
<text x="205.30" y="528.2" font-size="9.1" text-anchor="middle">0</text>
<text x="266.00" y="528.2" font-size="9.1" text-anchor="middle">2000</text>
<text x="326.70" y="528.2" font-size="9.1" text-anchor="middle">4000</text>
<text x="387.40" y="528.2" font-size="9.1" text-anchor="middle">6000</text>
<text x="235" y="542.6" font-size="9" textLength="121.7" lengthAdjust="spacingAndGlyphs">IDO2 luciferase reporter activity</text>
<path d="M249.00,401.40 H257.10 M257.10,398.80 V404.00" stroke="#111" stroke-width="1" fill="none"/>
<clipPath id="k21"><rect x="205.43" y="396.82" width="42.95" height="9.15"/></clipPath>
<g clip-path="url(#k21)">
<rect x="205.43" y="396.82" width="42.95" height="9.15" fill="#000"/>
<path d="M191.62,407.82L203.62,395.82M195.22,407.82L207.22,395.82M198.82,407.82L210.82,395.82M202.43,407.82L214.43,395.82M206.03,407.82L218.03,395.82M209.63,407.82L221.63,395.82M213.23,407.82L225.23,395.82M216.83,407.82L228.83,395.82M220.43,407.82L232.43,395.82M224.03,407.82L236.03,395.82M227.63,407.82L239.63,395.82M231.23,407.82L243.23,395.82M234.83,407.82L246.83,395.82M238.43,407.82L250.43,395.82M242.03,407.82L254.03,395.82M245.63,407.82L257.63,395.82M249.23,407.82L261.23,395.82" stroke="#fff" stroke-width="1.3" stroke-dasharray="2.2 0.77" fill="none"/>
</g>
<rect x="205.43" y="396.82" width="42.95" height="9.15" fill="none" stroke="#000" stroke-width="1.25"/>
<path d="M342.80,412.00 H365.50 M365.50,409.40 V414.60" stroke="#111" stroke-width="1" fill="none"/>
<clipPath id="k22"><rect x="205.3" y="406.9" width="137" height="10.2"/></clipPath>
<g clip-path="url(#k22)">
<rect x="205.3" y="406.9" width="137" height="10.2" fill="#000"/>
<path d="M205.56,406.92h2.05v2.05h-2.05zM210.28,406.92h2.05v2.05h-2.05zM215,406.92h2.05v2.05h-2.05zM219.72,406.92h2.05v2.05h-2.05zM224.44,406.92h2.05v2.05h-2.05zM229.16,406.92h2.05v2.05h-2.05zM233.88,406.92h2.05v2.05h-2.05zM238.6,406.92h2.05v2.05h-2.05zM243.32,406.92h2.05v2.05h-2.05zM248.04,406.92h2.05v2.05h-2.05zM252.76,406.92h2.05v2.05h-2.05zM257.48,406.92h2.05v2.05h-2.05zM262.2,406.92h2.05v2.05h-2.05zM266.92,406.92h2.05v2.05h-2.05zM271.64,406.92h2.05v2.05h-2.05zM276.36,406.92h2.05v2.05h-2.05zM281.08,406.92h2.05v2.05h-2.05zM285.8,406.92h2.05v2.05h-2.05zM290.52,406.92h2.05v2.05h-2.05zM295.24,406.92h2.05v2.05h-2.05zM299.96,406.92h2.05v2.05h-2.05zM304.68,406.92h2.05v2.05h-2.05zM309.4,406.92h2.05v2.05h-2.05zM314.12,406.92h2.05v2.05h-2.05zM318.84,406.92h2.05v2.05h-2.05zM323.56,406.92h2.05v2.05h-2.05zM328.28,406.92h2.05v2.05h-2.05zM333,406.92h2.05v2.05h-2.05zM337.72,406.92h2.05v2.05h-2.05zM342.44,406.92h2.05v2.05h-2.05zM207.92,409.22h2.05v2.05h-2.05zM212.64,409.22h2.05v2.05h-2.05zM217.36,409.22h2.05v2.05h-2.05zM222.08,409.22h2.05v2.05h-2.05zM226.8,409.22h2.05v2.05h-2.05zM231.52,409.22h2.05v2.05h-2.05zM236.24,409.22h2.05v2.05h-2.05zM240.96,409.22h2.05v2.05h-2.05zM245.68,409.22h2.05v2.05h-2.05zM250.4,409.22h2.05v2.05h-2.05zM255.12,409.22h2.05v2.05h-2.05zM259.84,409.22h2.05v2.05h-2.05zM264.56,409.22h2.05v2.05h-2.05zM269.28,409.22h2.05v2.05h-2.05zM274,409.22h2.05v2.05h-2.05zM278.72,409.22h2.05v2.05h-2.05zM283.44,409.22h2.05v2.05h-2.05zM288.16,409.22h2.05v2.05h-2.05zM292.88,409.22h2.05v2.05h-2.05zM297.6,409.22h2.05v2.05h-2.05zM302.32,409.22h2.05v2.05h-2.05zM307.04,409.22h2.05v2.05h-2.05zM311.76,409.22h2.05v2.05h-2.05zM316.48,409.22h2.05v2.05h-2.05zM321.2,409.22h2.05v2.05h-2.05zM325.92,409.22h2.05v2.05h-2.05zM330.64,409.22h2.05v2.05h-2.05zM335.36,409.22h2.05v2.05h-2.05zM340.08,409.22h2.05v2.05h-2.05zM205.56,411.52h2.05v2.05h-2.05zM210.28,411.52h2.05v2.05h-2.05zM215,411.52h2.05v2.05h-2.05zM219.72,411.52h2.05v2.05h-2.05zM224.44,411.52h2.05v2.05h-2.05zM229.16,411.52h2.05v2.05h-2.05zM233.88,411.52h2.05v2.05h-2.05zM238.6,411.52h2.05v2.05h-2.05zM243.32,411.52h2.05v2.05h-2.05zM248.04,411.52h2.05v2.05h-2.05zM252.76,411.52h2.05v2.05h-2.05zM257.48,411.52h2.05v2.05h-2.05zM262.2,411.52h2.05v2.05h-2.05zM266.92,411.52h2.05v2.05h-2.05zM271.64,411.52h2.05v2.05h-2.05zM276.36,411.52h2.05v2.05h-2.05zM281.08,411.52h2.05v2.05h-2.05zM285.8,411.52h2.05v2.05h-2.05zM290.52,411.52h2.05v2.05h-2.05zM295.24,411.52h2.05v2.05h-2.05zM299.96,411.52h2.05v2.05h-2.05zM304.68,411.52h2.05v2.05h-2.05zM309.4,411.52h2.05v2.05h-2.05zM314.12,411.52h2.05v2.05h-2.05zM318.84,411.52h2.05v2.05h-2.05zM323.56,411.52h2.05v2.05h-2.05zM328.28,411.52h2.05v2.05h-2.05zM333,411.52h2.05v2.05h-2.05zM337.72,411.52h2.05v2.05h-2.05zM342.44,411.52h2.05v2.05h-2.05zM207.92,413.82h2.05v2.05h-2.05zM212.64,413.82h2.05v2.05h-2.05zM217.36,413.82h2.05v2.05h-2.05zM222.08,413.82h2.05v2.05h-2.05zM226.8,413.82h2.05v2.05h-2.05zM231.52,413.82h2.05v2.05h-2.05zM236.24,413.82h2.05v2.05h-2.05zM240.96,413.82h2.05v2.05h-2.05zM245.68,413.82h2.05v2.05h-2.05zM250.4,413.82h2.05v2.05h-2.05zM255.12,413.82h2.05v2.05h-2.05zM259.84,413.82h2.05v2.05h-2.05zM264.56,413.82h2.05v2.05h-2.05zM269.28,413.82h2.05v2.05h-2.05zM274,413.82h2.05v2.05h-2.05zM278.72,413.82h2.05v2.05h-2.05zM283.44,413.82h2.05v2.05h-2.05zM288.16,413.82h2.05v2.05h-2.05zM292.88,413.82h2.05v2.05h-2.05zM297.6,413.82h2.05v2.05h-2.05zM302.32,413.82h2.05v2.05h-2.05zM307.04,413.82h2.05v2.05h-2.05zM311.76,413.82h2.05v2.05h-2.05zM316.48,413.82h2.05v2.05h-2.05zM321.2,413.82h2.05v2.05h-2.05zM325.92,413.82h2.05v2.05h-2.05zM330.64,413.82h2.05v2.05h-2.05zM335.36,413.82h2.05v2.05h-2.05zM340.08,413.82h2.05v2.05h-2.05zM205.56,416.12h2.05v2.05h-2.05zM210.28,416.12h2.05v2.05h-2.05zM215,416.12h2.05v2.05h-2.05zM219.72,416.12h2.05v2.05h-2.05zM224.44,416.12h2.05v2.05h-2.05zM229.16,416.12h2.05v2.05h-2.05zM233.88,416.12h2.05v2.05h-2.05zM238.6,416.12h2.05v2.05h-2.05zM243.32,416.12h2.05v2.05h-2.05zM248.04,416.12h2.05v2.05h-2.05zM252.76,416.12h2.05v2.05h-2.05zM257.48,416.12h2.05v2.05h-2.05zM262.2,416.12h2.05v2.05h-2.05zM266.92,416.12h2.05v2.05h-2.05zM271.64,416.12h2.05v2.05h-2.05zM276.36,416.12h2.05v2.05h-2.05zM281.08,416.12h2.05v2.05h-2.05zM285.8,416.12h2.05v2.05h-2.05zM290.52,416.12h2.05v2.05h-2.05zM295.24,416.12h2.05v2.05h-2.05zM299.96,416.12h2.05v2.05h-2.05zM304.68,416.12h2.05v2.05h-2.05zM309.4,416.12h2.05v2.05h-2.05zM314.12,416.12h2.05v2.05h-2.05zM318.84,416.12h2.05v2.05h-2.05zM323.56,416.12h2.05v2.05h-2.05zM328.28,416.12h2.05v2.05h-2.05zM333,416.12h2.05v2.05h-2.05zM337.72,416.12h2.05v2.05h-2.05zM342.44,416.12h2.05v2.05h-2.05z" fill="#fff"/>
</g>
<rect x="205.3" y="406.9" width="137" height="10.2" fill="none" stroke="#000" stroke-width="1"/>
<path d="M246.40,422.80 H252.40 M252.40,420.20 V425.40" stroke="#111" stroke-width="1" fill="none"/>
<rect x="205.3" y="418.5" width="40.6" height="8.6" fill="#cbcbcb"/>
<rect x="205.3" y="418.5" width="40.6" height="8.6" fill="none" stroke="#333" stroke-width="1"/>
<path d="M261.40,442.20 H267.40 M267.40,439.60 V444.80" stroke="#111" stroke-width="1" fill="none"/>
<clipPath id="k23"><rect x="205.43" y="437.62" width="55.35" height="9.15"/></clipPath>
<g clip-path="url(#k23)">
<rect x="205.43" y="437.62" width="55.35" height="9.15" fill="#000"/>
<path d="M191.62,448.62L203.62,436.62M195.22,448.62L207.22,436.62M198.82,448.62L210.82,436.62M202.42,448.62L214.42,436.62M206.02,448.62L218.02,436.62M209.62,448.62L221.62,436.62M213.23,448.62L225.23,436.62M216.83,448.62L228.83,436.62M220.43,448.62L232.43,436.62M224.03,448.62L236.03,436.62M227.63,448.62L239.63,436.62M231.23,448.62L243.23,436.62M234.83,448.62L246.83,436.62M238.43,448.62L250.43,436.62M242.03,448.62L254.03,436.62M245.63,448.62L257.63,436.62M249.23,448.62L261.23,436.62M252.83,448.62L264.83,436.62M256.43,448.62L268.43,436.62M260.03,448.62L272.03,436.62" stroke="#fff" stroke-width="1.3" stroke-dasharray="2.2 0.77" fill="none"/>
</g>
<rect x="205.43" y="437.62" width="55.35" height="9.15" fill="none" stroke="#000" stroke-width="1.25"/>
<path d="M269.30,452.90 H278.50 M278.50,450.30 V455.50" stroke="#111" stroke-width="1" fill="none"/>
<clipPath id="k24"><rect x="205.3" y="447.7" width="63.5" height="10.4"/></clipPath>
<g clip-path="url(#k24)">
<rect x="205.3" y="447.7" width="63.5" height="10.4" fill="#000"/>
<path d="M205.56,447.72h2.05v2.05h-2.05zM210.28,447.72h2.05v2.05h-2.05zM215,447.72h2.05v2.05h-2.05zM219.72,447.72h2.05v2.05h-2.05zM224.44,447.72h2.05v2.05h-2.05zM229.16,447.72h2.05v2.05h-2.05zM233.88,447.72h2.05v2.05h-2.05zM238.6,447.72h2.05v2.05h-2.05zM243.32,447.72h2.05v2.05h-2.05zM248.04,447.72h2.05v2.05h-2.05zM252.76,447.72h2.05v2.05h-2.05zM257.48,447.72h2.05v2.05h-2.05zM262.2,447.72h2.05v2.05h-2.05zM266.92,447.72h2.05v2.05h-2.05zM207.92,450.02h2.05v2.05h-2.05zM212.64,450.02h2.05v2.05h-2.05zM217.36,450.02h2.05v2.05h-2.05zM222.08,450.02h2.05v2.05h-2.05zM226.8,450.02h2.05v2.05h-2.05zM231.52,450.02h2.05v2.05h-2.05zM236.24,450.02h2.05v2.05h-2.05zM240.96,450.02h2.05v2.05h-2.05zM245.68,450.02h2.05v2.05h-2.05zM250.4,450.02h2.05v2.05h-2.05zM255.12,450.02h2.05v2.05h-2.05zM259.84,450.02h2.05v2.05h-2.05zM264.56,450.02h2.05v2.05h-2.05zM205.56,452.32h2.05v2.05h-2.05zM210.28,452.32h2.05v2.05h-2.05zM215,452.32h2.05v2.05h-2.05zM219.72,452.32h2.05v2.05h-2.05zM224.44,452.32h2.05v2.05h-2.05zM229.16,452.32h2.05v2.05h-2.05zM233.88,452.32h2.05v2.05h-2.05zM238.6,452.32h2.05v2.05h-2.05zM243.32,452.32h2.05v2.05h-2.05zM248.04,452.32h2.05v2.05h-2.05zM252.76,452.32h2.05v2.05h-2.05zM257.48,452.32h2.05v2.05h-2.05zM262.2,452.32h2.05v2.05h-2.05zM266.92,452.32h2.05v2.05h-2.05zM207.92,454.62h2.05v2.05h-2.05zM212.64,454.62h2.05v2.05h-2.05zM217.36,454.62h2.05v2.05h-2.05zM222.08,454.62h2.05v2.05h-2.05zM226.8,454.62h2.05v2.05h-2.05zM231.52,454.62h2.05v2.05h-2.05zM236.24,454.62h2.05v2.05h-2.05zM240.96,454.62h2.05v2.05h-2.05zM245.68,454.62h2.05v2.05h-2.05zM250.4,454.62h2.05v2.05h-2.05zM255.12,454.62h2.05v2.05h-2.05zM259.84,454.62h2.05v2.05h-2.05zM264.56,454.62h2.05v2.05h-2.05zM205.56,456.93h2.05v2.05h-2.05zM210.28,456.93h2.05v2.05h-2.05zM215,456.93h2.05v2.05h-2.05zM219.72,456.93h2.05v2.05h-2.05zM224.44,456.93h2.05v2.05h-2.05zM229.16,456.93h2.05v2.05h-2.05zM233.88,456.93h2.05v2.05h-2.05zM238.6,456.93h2.05v2.05h-2.05zM243.32,456.93h2.05v2.05h-2.05zM248.04,456.93h2.05v2.05h-2.05zM252.76,456.93h2.05v2.05h-2.05zM257.48,456.93h2.05v2.05h-2.05zM262.2,456.93h2.05v2.05h-2.05zM266.92,456.93h2.05v2.05h-2.05z" fill="#fff"/>
</g>
<rect x="205.3" y="447.7" width="63.5" height="10.4" fill="none" stroke="#000" stroke-width="1"/>
<path d="M257.70,463.60 H268.40 M268.40,461.00 V466.20" stroke="#111" stroke-width="1" fill="none"/>
<rect x="205.3" y="459.4" width="51.9" height="8.4" fill="#cbcbcb"/>
<rect x="205.3" y="459.4" width="51.9" height="8.4" fill="none" stroke="#333" stroke-width="1"/>
<path d="M263.50,484.15 H273.80 M273.80,481.55 V486.75" stroke="#111" stroke-width="1" fill="none"/>
<clipPath id="k25"><rect x="205.43" y="479.52" width="57.45" height="9.25"/></clipPath>
<g clip-path="url(#k25)">
<rect x="205.43" y="479.52" width="57.45" height="9.25" fill="#000"/>
<path d="M191.62,490.52L203.62,478.52M195.23,490.52L207.23,478.52M198.83,490.52L210.83,478.52M202.43,490.52L214.43,478.52M206.03,490.52L218.03,478.52M209.63,490.52L221.63,478.52M213.23,490.52L225.23,478.52M216.83,490.52L228.83,478.52M220.43,490.52L232.43,478.52M224.03,490.52L236.03,478.52M227.63,490.52L239.63,478.52M231.23,490.52L243.23,478.52M234.83,490.52L246.83,478.52M238.43,490.52L250.43,478.52M242.03,490.52L254.03,478.52M245.63,490.52L257.63,478.52M249.23,490.52L261.23,478.52M252.83,490.52L264.83,478.52M256.43,490.52L268.43,478.52M260.03,490.52L272.03,478.52M263.63,490.52L275.63,478.52" stroke="#fff" stroke-width="1.3" stroke-dasharray="2.2 0.77" fill="none"/>
</g>
<rect x="205.43" y="479.52" width="57.45" height="9.25" fill="none" stroke="#000" stroke-width="1.25"/>
<path d="M343.90,494.50 H358.90 M358.90,491.90 V497.10" stroke="#111" stroke-width="1" fill="none"/>
<clipPath id="k26"><rect x="205.3" y="489.7" width="138.1" height="9.6"/></clipPath>
<g clip-path="url(#k26)">
<rect x="205.3" y="489.7" width="138.1" height="9.6" fill="#000"/>
<path d="M205.56,489.72h2.05v2.05h-2.05zM210.28,489.72h2.05v2.05h-2.05zM215,489.72h2.05v2.05h-2.05zM219.72,489.72h2.05v2.05h-2.05zM224.44,489.72h2.05v2.05h-2.05zM229.16,489.72h2.05v2.05h-2.05zM233.88,489.72h2.05v2.05h-2.05zM238.6,489.72h2.05v2.05h-2.05zM243.32,489.72h2.05v2.05h-2.05zM248.04,489.72h2.05v2.05h-2.05zM252.76,489.72h2.05v2.05h-2.05zM257.48,489.72h2.05v2.05h-2.05zM262.2,489.72h2.05v2.05h-2.05zM266.92,489.72h2.05v2.05h-2.05zM271.64,489.72h2.05v2.05h-2.05zM276.36,489.72h2.05v2.05h-2.05zM281.08,489.72h2.05v2.05h-2.05zM285.8,489.72h2.05v2.05h-2.05zM290.52,489.72h2.05v2.05h-2.05zM295.24,489.72h2.05v2.05h-2.05zM299.96,489.72h2.05v2.05h-2.05zM304.68,489.72h2.05v2.05h-2.05zM309.4,489.72h2.05v2.05h-2.05zM314.12,489.72h2.05v2.05h-2.05zM318.84,489.72h2.05v2.05h-2.05zM323.56,489.72h2.05v2.05h-2.05zM328.28,489.72h2.05v2.05h-2.05zM333,489.72h2.05v2.05h-2.05zM337.72,489.72h2.05v2.05h-2.05zM342.44,489.72h2.05v2.05h-2.05zM207.92,492.02h2.05v2.05h-2.05zM212.64,492.02h2.05v2.05h-2.05zM217.36,492.02h2.05v2.05h-2.05zM222.08,492.02h2.05v2.05h-2.05zM226.8,492.02h2.05v2.05h-2.05zM231.52,492.02h2.05v2.05h-2.05zM236.24,492.02h2.05v2.05h-2.05zM240.96,492.02h2.05v2.05h-2.05zM245.68,492.02h2.05v2.05h-2.05zM250.4,492.02h2.05v2.05h-2.05zM255.12,492.02h2.05v2.05h-2.05zM259.84,492.02h2.05v2.05h-2.05zM264.56,492.02h2.05v2.05h-2.05zM269.28,492.02h2.05v2.05h-2.05zM274,492.02h2.05v2.05h-2.05zM278.72,492.02h2.05v2.05h-2.05zM283.44,492.02h2.05v2.05h-2.05zM288.16,492.02h2.05v2.05h-2.05zM292.88,492.02h2.05v2.05h-2.05zM297.6,492.02h2.05v2.05h-2.05zM302.32,492.02h2.05v2.05h-2.05zM307.04,492.02h2.05v2.05h-2.05zM311.76,492.02h2.05v2.05h-2.05zM316.48,492.02h2.05v2.05h-2.05zM321.2,492.02h2.05v2.05h-2.05zM325.92,492.02h2.05v2.05h-2.05zM330.64,492.02h2.05v2.05h-2.05zM335.36,492.02h2.05v2.05h-2.05zM340.08,492.02h2.05v2.05h-2.05zM205.56,494.32h2.05v2.05h-2.05zM210.28,494.32h2.05v2.05h-2.05zM215,494.32h2.05v2.05h-2.05zM219.72,494.32h2.05v2.05h-2.05zM224.44,494.32h2.05v2.05h-2.05zM229.16,494.32h2.05v2.05h-2.05zM233.88,494.32h2.05v2.05h-2.05zM238.6,494.32h2.05v2.05h-2.05zM243.32,494.32h2.05v2.05h-2.05zM248.04,494.32h2.05v2.05h-2.05zM252.76,494.32h2.05v2.05h-2.05zM257.48,494.32h2.05v2.05h-2.05zM262.2,494.32h2.05v2.05h-2.05zM266.92,494.32h2.05v2.05h-2.05zM271.64,494.32h2.05v2.05h-2.05zM276.36,494.32h2.05v2.05h-2.05zM281.08,494.32h2.05v2.05h-2.05zM285.8,494.32h2.05v2.05h-2.05zM290.52,494.32h2.05v2.05h-2.05zM295.24,494.32h2.05v2.05h-2.05zM299.96,494.32h2.05v2.05h-2.05zM304.68,494.32h2.05v2.05h-2.05zM309.4,494.32h2.05v2.05h-2.05zM314.12,494.32h2.05v2.05h-2.05zM318.84,494.32h2.05v2.05h-2.05zM323.56,494.32h2.05v2.05h-2.05zM328.28,494.32h2.05v2.05h-2.05zM333,494.32h2.05v2.05h-2.05zM337.72,494.32h2.05v2.05h-2.05zM342.44,494.32h2.05v2.05h-2.05zM207.92,496.62h2.05v2.05h-2.05zM212.64,496.62h2.05v2.05h-2.05zM217.36,496.62h2.05v2.05h-2.05zM222.08,496.62h2.05v2.05h-2.05zM226.8,496.62h2.05v2.05h-2.05zM231.52,496.62h2.05v2.05h-2.05zM236.24,496.62h2.05v2.05h-2.05zM240.96,496.62h2.05v2.05h-2.05zM245.68,496.62h2.05v2.05h-2.05zM250.4,496.62h2.05v2.05h-2.05zM255.12,496.62h2.05v2.05h-2.05zM259.84,496.62h2.05v2.05h-2.05zM264.56,496.62h2.05v2.05h-2.05zM269.28,496.62h2.05v2.05h-2.05zM274,496.62h2.05v2.05h-2.05zM278.72,496.62h2.05v2.05h-2.05zM283.44,496.62h2.05v2.05h-2.05zM288.16,496.62h2.05v2.05h-2.05zM292.88,496.62h2.05v2.05h-2.05zM297.6,496.62h2.05v2.05h-2.05zM302.32,496.62h2.05v2.05h-2.05zM307.04,496.62h2.05v2.05h-2.05zM311.76,496.62h2.05v2.05h-2.05zM316.48,496.62h2.05v2.05h-2.05zM321.2,496.62h2.05v2.05h-2.05zM325.92,496.62h2.05v2.05h-2.05zM330.64,496.62h2.05v2.05h-2.05zM335.36,496.62h2.05v2.05h-2.05zM340.08,496.62h2.05v2.05h-2.05zM205.56,498.93h2.05v2.05h-2.05zM210.28,498.93h2.05v2.05h-2.05zM215,498.93h2.05v2.05h-2.05zM219.72,498.93h2.05v2.05h-2.05zM224.44,498.93h2.05v2.05h-2.05zM229.16,498.93h2.05v2.05h-2.05zM233.88,498.93h2.05v2.05h-2.05zM238.6,498.93h2.05v2.05h-2.05zM243.32,498.93h2.05v2.05h-2.05zM248.04,498.93h2.05v2.05h-2.05zM252.76,498.93h2.05v2.05h-2.05zM257.48,498.93h2.05v2.05h-2.05zM262.2,498.93h2.05v2.05h-2.05zM266.92,498.93h2.05v2.05h-2.05zM271.64,498.93h2.05v2.05h-2.05zM276.36,498.93h2.05v2.05h-2.05zM281.08,498.93h2.05v2.05h-2.05zM285.8,498.93h2.05v2.05h-2.05zM290.52,498.93h2.05v2.05h-2.05zM295.24,498.93h2.05v2.05h-2.05zM299.96,498.93h2.05v2.05h-2.05zM304.68,498.93h2.05v2.05h-2.05zM309.4,498.93h2.05v2.05h-2.05zM314.12,498.93h2.05v2.05h-2.05zM318.84,498.93h2.05v2.05h-2.05zM323.56,498.93h2.05v2.05h-2.05zM328.28,498.93h2.05v2.05h-2.05zM333,498.93h2.05v2.05h-2.05zM337.72,498.93h2.05v2.05h-2.05zM342.44,498.93h2.05v2.05h-2.05z" fill="#fff"/>
</g>
<rect x="205.3" y="489.7" width="138.1" height="9.6" fill="none" stroke="#000" stroke-width="1"/>
<path d="M263.10,504.80 H270.00 M270.00,502.20 V507.40" stroke="#111" stroke-width="1" fill="none"/>
<rect x="205.3" y="500.7" width="57.3" height="8.2" fill="#cbcbcb"/>
<rect x="205.3" y="500.7" width="57.3" height="8.2" fill="none" stroke="#333" stroke-width="1"/>
<g stroke="#111" stroke-width="1" fill="none">
<path d="M205.3,390.4 V514.6 H387.4"/>
<path d="M205.30,514.6 V517.8"/>
<path d="M266.00,514.6 V517.8"/>
<path d="M326.70,514.6 V517.8"/>
<path d="M387.40,514.6 V517.8"/>
</g>
<text x="370.7" y="415.6" font-size="7" text-anchor="middle">*</text>
<text x="364.2" y="497.0" font-size="7" text-anchor="middle">*</text>
<rect x="414.6" y="395.9" width="12.8" height="6.4" fill="#cbcbcb"/>
<rect x="414.6" y="395.9" width="12.8" height="6.4" fill="none" stroke="#333" stroke-width="1"/>
<text x="435.0" y="402.20" font-size="10.2" textLength="14.4" lengthAdjust="spacingAndGlyphs">Ctrl</text>
<clipPath id="k27"><rect x="414.7" y="412.4" width="12.6" height="6.2"/></clipPath>
<g clip-path="url(#k27)">
<rect x="414.7" y="412.4" width="12.6" height="6.2" fill="#000"/>
<path d="M414.85,412.9h2v2.4h-2zM419.45,412.9h2v2.4h-2zM424.05,412.9h2v2.4h-2zM417.15,415.7h2v2.4h-2zM421.75,415.7h2v2.4h-2zM426.35,415.7h2v2.4h-2zM414.85,418.5h2v2.4h-2zM419.45,418.5h2v2.4h-2zM424.05,418.5h2v2.4h-2z" fill="#fff"/>
</g>
<rect x="414.7" y="412.4" width="12.6" height="6.2" fill="none" stroke="#000" stroke-width="1.2"/>
<text x="435.0" y="418.80" font-size="10.2" textLength="27.2" lengthAdjust="spacingAndGlyphs">TCDD</text>
<clipPath id="k28"><rect x="414.7" y="430.7" width="12.6" height="6.2"/></clipPath>
<g clip-path="url(#k28)">
<rect x="414.7" y="430.7" width="12.6" height="6.2" fill="#000"/>
<path d="M400.9,441.7L412.9,429.7M404.5,441.7L416.5,429.7M408.1,441.7L420.1,429.7M411.7,441.7L423.7,429.7M415.3,441.7L427.3,429.7M418.9,441.7L430.9,429.7M422.5,441.7L434.5,429.7" stroke="#fff" stroke-width="1.3" stroke-dasharray="2.2 0.77" fill="none"/>
</g>
<rect x="414.7" y="430.7" width="12.6" height="6.2" fill="none" stroke="#000" stroke-width="1.2"/>
<text x="435.0" y="437.20" font-size="10.2" textLength="19.8" lengthAdjust="spacingAndGlyphs">IFN<tspan font-size="8.4">γ</tspan></text>
</svg>
</body></html>
